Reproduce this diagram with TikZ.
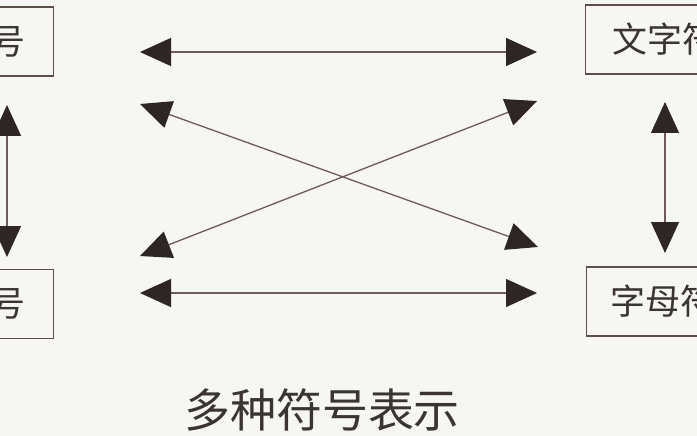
\documentclass[tikz,border=0pt]{standalone}
\usepackage{fontspec}
\newfontfamily\cjk{Noto Sans CJK SC}
\usetikzlibrary{arrows.meta}
\definecolor{bg}{HTML}{F6F6F4}
\definecolor{ln}{HTML}{6E5A58}
\definecolor{hd}{HTML}{2E2626}
\definecolor{bx}{HTML}{5E4E4A}
\definecolor{tx}{HTML}{3A3434}
\tikzset{
  box/.style={draw=bx, line width=1.3pt, minimum height=69pt, inner sep=0pt, font=\cjk\fontsize{35}{35}\selectfont, text=tx},
  link/.style={draw=ln, line width=1.3pt, {Triangle[length=31pt,width=28pt,fill=hd,color=hd]}-{Triangle[length=31pt,width=28pt,fill=hd,color=hd]}},
}
\begin{document}
\begin{tikzpicture}[x=1pt,y=-1pt]
\useasboundingbox (0,0) rectangle (697,436);
\fill[bg] (0,0) rectangle (697,436);
\clip (0,0) rectangle (697,436);
% boxes
\node[box, anchor=east, text width=90pt, align=right] (tl) at (54,41.5) {号\hspace*{28pt}};
\node[box, anchor=east, text width=90pt, align=right] (bl) at (54,304) {号\hspace*{28pt}};
\node[box, anchor=west, text width=140pt, align=left] (tr) at (585,39.5) {\hspace*{27pt}文字符};
\node[box, anchor=west, text width=140pt, align=left] (br) at (586,301.5) {\hspace*{24pt}字母符};
% arrow end points
\coordinate (a1) at (140,52);  \coordinate (a2) at (537,52);
\coordinate (b1) at (140,293); \coordinate (b2) at (537,293);
\coordinate (c1) at (140,104); \coordinate (c2) at (538,247);
\coordinate (d1) at (537,101); \coordinate (d2) at (140,256);
\coordinate (e1) at (7,105);   \coordinate (e2) at (7,257);
\coordinate (f1) at (665,102); \coordinate (f2) at (665,253);
\draw[link] (a1) -- (a2);
\draw[link] (b1) -- (b2);
\draw[link] (c1) -- (c2);
\draw[link] (d1) -- (d2);
\draw[link] (e1) -- (e2);
\draw[link] (f1) -- (f2);
% caption
\node[font=\cjk\fontsize{46}{46}\selectfont, text=tx] (cap) at (322,410) {多种符号表示};
\end{tikzpicture}
\end{document}
